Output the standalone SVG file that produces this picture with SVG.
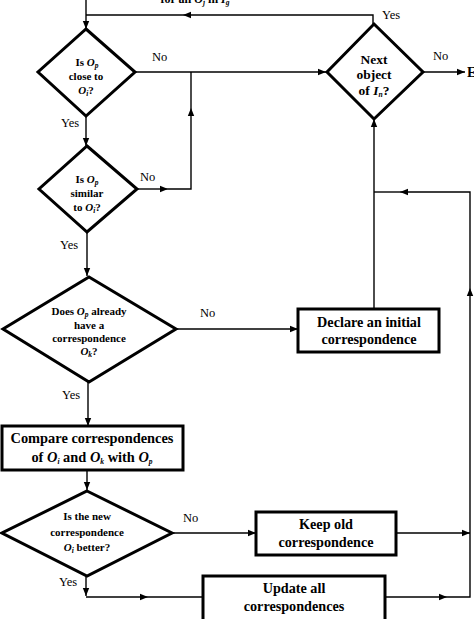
<svg xmlns="http://www.w3.org/2000/svg" width="474" height="619" viewBox="0 0 474 619">
<style>
.shape{fill:#fff;stroke:#000;stroke-width:3}
.con{fill:none;stroke:#000;stroke-width:1.4}
.t{font-family:"Liberation Serif","Times New Roman",serif;font-weight:bold;text-anchor:middle;fill:#000}
.s12{font-size:11px}
.s15{font-size:14.2px}
.lbl{font-family:"Liberation Serif","Times New Roman",serif;font-size:12.5px;fill:#000}
.i{font-style:italic}
.sub{font-size:7.5px;font-style:italic}
</style>
<defs>
<marker id="a" viewBox="0 0 10 10" refX="10" refY="5" markerWidth="8" markerHeight="8" markerUnits="userSpaceOnUse" orient="auto"><path d="M0,1 L10,5 L0,9z" fill="#000"/></marker>
</defs>
<rect width="474" height="619" fill="#fff"/>
<g id="connectors">
<path class="con" d="M86,0 V29" marker-end="url(#a)"/>
<path class="con" d="M373,24 V15 H183" marker-end="url(#a)"/>
<path class="con" d="M183,15 H86"/>
<path class="con" d="M135,72 H326" marker-end="url(#a)"/>
<path class="con" d="M86,116 V146" marker-end="url(#a)"/>
<path class="con" d="M137,189 H168" marker-end="url(#a)"/>
<path class="con" d="M168,189 H191 V108" marker-end="url(#a)"/>
<path class="con" d="M191,108 V72"/>
<path class="con" d="M87,232 V276" marker-end="url(#a)"/>
<path class="con" d="M176,329 H298" marker-end="url(#a)"/>
<path class="con" d="M374,309 V119" marker-end="url(#a)"/>
<path class="con" d="M88,382 V426" marker-end="url(#a)"/>
<path class="con" d="M87,470 V490" marker-end="url(#a)"/>
<path class="con" d="M172,533 H256" marker-end="url(#a)"/>
<path class="con" d="M86,576 V596" marker-end="url(#a)"/>
<path class="con" d="M86,597 H148" marker-end="url(#a)"/>
<path class="con" d="M148,597 H203"/>
<path class="con" d="M396,533 H470" marker-end="url(#a)"/>
<path class="con" d="M385,597 H447" marker-end="url(#a)"/>
<path class="con" d="M447,597 H470 V288" marker-end="url(#a)"/>
<path class="con" d="M470,288 V192 H400" marker-end="url(#a)"/>
<path class="con" d="M400,192 H374"/>
<path class="con" d="M423,72 H465" marker-end="url(#a)"/>
</g>
<g id="labels">
<text class="t" style="font-size:12px" x="195" y="3">for all <tspan class="i">O</tspan><tspan class="sub" dy="2">j</tspan><tspan dy="-2"> in </tspan><tspan class="i">I</tspan><tspan class="sub" dy="2">g</tspan></text>
<text class="lbl" x="382" y="19">Yes</text>
<text class="lbl" x="152" y="61">No</text>
<text class="lbl" x="433" y="60">No</text>
<text class="lbl" x="61" y="127">Yes</text>
<text class="lbl" x="140" y="181">No</text>
<text class="lbl" x="60" y="249">Yes</text>
<text class="lbl" x="200" y="317">No</text>
<text class="lbl" x="62" y="399">Yes</text>
<text class="lbl" x="183" y="522">No</text>
<text class="lbl" x="59" y="586">Yes</text>
<text class="t s15" x="467" y="77" style="text-anchor:start">E</text>
</g>
<g id="d1">
<polygon class="shape" points="86,29 135,72 86,116 38,72"/>
<text class="t s12" x="87" y="66">Is <tspan class="i">O</tspan><tspan class="sub" dy="2">p</tspan></text>
<text class="t s12" x="86" y="80">close to</text>
<text class="t s12" x="86" y="94"><tspan class="i">O</tspan><tspan class="sub" dy="2">i</tspan><tspan dy="-2">?</tspan></text>
</g>
<g id="next">
<polygon class="shape" points="374,24 423,72 374,119 327,72"/>
<text class="t" style="font-size:13.5px" x="374" y="64">Next</text>
<text class="t" style="font-size:13.5px" x="374" y="79">object</text>
<text class="t" style="font-size:13.5px" x="374" y="95">of <tspan class="i">I</tspan><tspan class="sub" dy="2">n</tspan><tspan dy="-2">?</tspan></text>
</g>
<g id="d2">
<polygon class="shape" points="87,146 137,189 87,232 39,189"/>
<text class="t s12" x="87" y="183">Is <tspan class="i">O</tspan><tspan class="sub" dy="2">p</tspan></text>
<text class="t s12" x="87" y="197">similar</text>
<text class="t s12" x="87" y="211">to <tspan class="i">O</tspan><tspan class="sub" dy="2">i</tspan><tspan dy="-2">?</tspan></text>
</g>
<g id="d3">
<polygon class="shape" points="89,277 176,329 89,382 3,329"/>
<text class="t s12" x="89" y="315">Does <tspan class="i">O</tspan><tspan class="sub" dy="2">p</tspan><tspan dy="-2"> already</tspan></text>
<text class="t s12" x="89" y="329">have a</text>
<text class="t s12" x="89" y="342">correspondence</text>
<text class="t s12" x="89" y="355"><tspan class="i">O</tspan><tspan class="sub" dy="2">k</tspan><tspan dy="-2">?</tspan></text>
</g>
<g id="declare">
<rect class="shape" x="298" y="309" width="141" height="43"/>
<text class="t s15" x="369" y="327">Declare an initial</text>
<text class="t s15" x="369" y="344">correspondence</text>
</g>
<g id="compare">
<rect class="shape" x="2" y="426" width="181" height="44"/>
<text class="t" style="font-size:14.4px" x="92" y="443">Compare correspondences</text>
<text class="t" style="font-size:14.4px" x="92" y="462">of <tspan class="i">O</tspan><tspan class="sub" dy="2">i</tspan><tspan dy="-2"> and </tspan><tspan class="i">O</tspan><tspan class="sub" dy="2">k</tspan><tspan dy="-2"> with </tspan><tspan class="i">O</tspan><tspan class="sub" dy="2">p</tspan></text>
</g>
<g id="d4">
<polygon class="shape" points="87,491 172,533 87,576 2,533"/>
<text class="t s12" x="87" y="520">Is the new</text>
<text class="t s12" x="87" y="536">correspondence</text>
<text class="t s12" x="87" y="551"><tspan class="i">O</tspan><tspan class="sub" dy="2">i</tspan><tspan dy="-2"> better?</tspan></text>
</g>
<g id="keep">
<rect class="shape" x="256" y="512" width="140" height="43"/>
<text class="t s15" x="326" y="529">Keep old</text>
<text class="t s15" x="326" y="547">correspondence</text>
</g>
<g id="update">
<rect class="shape" x="203" y="576" width="182" height="50"/>
<text class="t s15" x="294" y="593">Update all</text>
<text class="t s15" x="294" y="611">correspondences</text>
</g>
</svg>
